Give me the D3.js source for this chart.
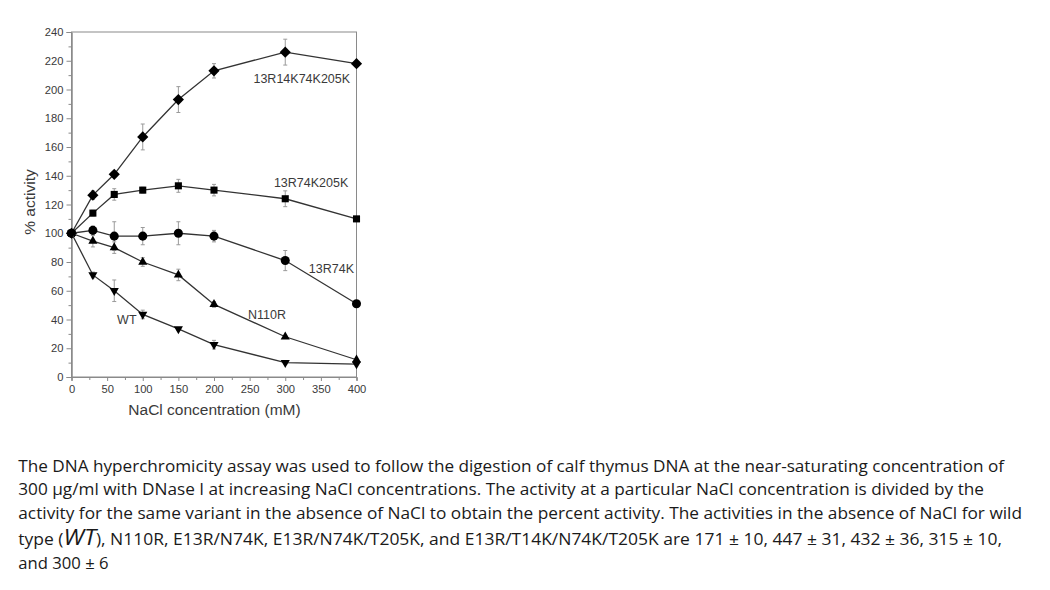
<!DOCTYPE html>
<html>
<head>
<meta charset="utf-8">
<script src="https://cdn.jsdelivr.net/npm/d3@7"></script>
<style>
  html, body { margin: 0; padding: 0; background: #fff; }
  svg { display: block; }
</style>
</head>
<body>
<svg id="chart" width="1050" height="590"></svg>
<script>
// ---- data ----
const concentrations = [0, 30, 60, 100, 150, 200, 300, 400];

const seriesNames = ["13R14K74K205K", "13R74K205K", "13R74K", "N110R", "WT"];
const seriesSymbols = ["diamond", "square", "circle", "triangleUp", "triangleDown"];

const act13R14K74K205K = [100, 126.5, 141, 167, 193, 213, 226, 218];
const err13R14K74K205K = [0, 3, 2, 9, 9, 5, 9, 0];
const act13R74K205K = [100, 114, 127, 130, 133, 130, 124, 110];
const err13R74K205K = [0, 2, 4, 2, 4.5, 4, 5.5, 1];
const act13R74K = [100, 102, 98, 98, 100, 98, 81, 51];
const err13R74K = [0, 3, 10, 6, 8, 4, 7, 0];
const actN110R = [100, 94.5, 90, 80, 71, 50.5, 28, 12];
const errN110R = [0, 4, 4, 3, 4, 2, 1, 0];
const actWT = [100, 71, 60, 43.5, 33.5, 22.5, 10, 9];
const errWT = [0, 2, 7.5, 3, 1, 3, 1, 0];

const xTicksMajor = [0, 50, 100, 150, 200, 250, 300, 350, 400];
const xTicksMinor = [25, 75, 125, 175, 225, 275, 325, 375];
const yTicksMajor = [0, 20, 40, 60, 80, 100, 120, 140, 160, 180, 200, 220, 240];
const yTicksMinor = [10, 30, 50, 70, 90, 110, 130, 150, 170, 190, 210, 230];

const xTitle = "NaCl concentration (mM)";
const yTitle = "% activity";

// annotation labels (data coordinates)
const labelTexts = ["13R14K74K205K", "13R74K205K", "13R74K", "N110R", "WT"];
const labelX = [391, 388.5, 396.5, 247.7, 64];
const labelY = [208, 135, 75.8, 43.8, 40.3];
const labelAnchor = ["end", "end", "end", "start", "start"];

const captionLines = [
  "The DNA hyperchromicity assay was used to follow the digestion of calf thymus DNA at the near-saturating concentration of",
  "300 \u00b5g/ml with DNase I at increasing NaCl concentrations. The activity at a particular NaCl concentration is divided by the",
  "activity for the same variant in the absence of NaCl to obtain the percent activity. The activities in the absence of NaCl for wild",
  "type (|WT|), N110R, E13R/N74K, E13R/N74K/T205K, and E13R/T14K/N74K/T205K are 171 \u00b1 10, 447 \u00b1 31, 432 \u00b1 36, 315 \u00b1 10,",
  "and 300 \u00b1 6"
];

// ---- drawing ----
const svg = d3.select("#chart");
const x = d3.scaleLinear().domain([0, 400]).range([71.5, 356.5]);
const y = d3.scaleLinear().domain([0, 240]).range([377, 32]);

const axisColor = "#8a8a8a";
const textColor = "#3a3a3a";
const chartFont = "'Liberation Sans', Arial, Helvetica, sans-serif";

// frame
svg.append("rect")
  .attr("x", x(0)).attr("y", y(240))
  .attr("width", x(400) - x(0)).attr("height", y(0) - y(240))
  .attr("fill", "none").attr("stroke", axisColor).attr("stroke-width", 1);

// y axis
const yAxis = d3.axisLeft(y).tickValues(yTicksMajor).tickSize(5).tickPadding(3).tickFormat(d3.format("d"));
const gy = svg.append("g").attr("transform", `translate(${x(0)},0)`).call(yAxis);
const yAxisMinor = d3.axisLeft(y).tickValues(yTicksMinor).tickSize(3).tickFormat("");
const gy2 = svg.append("g").attr("transform", `translate(${x(0)},0)`).call(yAxisMinor);

// x axis
const xAxis = d3.axisBottom(x).tickValues(xTicksMajor).tickSize(4).tickPadding(4).tickFormat(d3.format("d"));
const gx = svg.append("g").attr("transform", `translate(0,${y(0)})`).call(xAxis);
const xAxisMinor = d3.axisBottom(x).tickValues(xTicksMinor).tickSize(3).tickFormat("");
const gx2 = svg.append("g").attr("transform", `translate(0,${y(0)})`).call(xAxisMinor);

[gy, gy2, gx, gx2].forEach(g => {
  g.select(".domain").attr("stroke", axisColor);
  g.selectAll(".tick line").attr("stroke", axisColor);
  g.selectAll(".tick text").attr("fill", textColor).attr("font-size", 11.2).attr("font-family", chartFont);
});

// axis titles
svg.append("text")
  .attr("x", (x(0) + x(400)) / 2 + 0.5).attr("y", 415)
  .attr("text-anchor", "middle")
  .attr("font-family", chartFont).attr("font-size", 15.5).attr("fill", textColor)
  .text(xTitle);
svg.append("text")
  .attr("transform", `translate(35,${202}) rotate(-90)`)
  .attr("text-anchor", "middle")
  .attr("font-family", chartFont).attr("font-size", 15.5).attr("fill", textColor)
  .text(yTitle);

// series
const seriesValues = [act13R14K74K205K, act13R74K205K, act13R74K, actN110R, actWT];
const seriesErrors = [err13R14K74K205K, err13R74K205K, err13R74K, errN110R, errWT];

const symbolMap = {
  diamond: d3.symbol().type(d3.symbolDiamond2).size(80),
  square: d3.symbol().type(d3.symbolSquare2).size(64),
  circle: d3.symbol().type(d3.symbolCircle).size(64),
  triangleUp: d3.symbol().type(d3.symbolTriangle2).size(60),
  triangleDown: d3.symbol().type(d3.symbolTriangle2).size(60)
};

const line = d3.line().x(d => x(d[0])).y(d => y(d[1]));

seriesValues.forEach((vals, si) => {
  const pts = concentrations.map((c, i) => [c, vals[i], seriesErrors[si][i]]);
  const g = svg.append("g");
  // error bars
  pts.forEach(p => {
    if (p[2] > 0) {
      const eg = g.append("g").attr("stroke", "#9a9a9a").attr("stroke-width", 1);
      eg.append("line").attr("x1", x(p[0])).attr("x2", x(p[0])).attr("y1", y(p[1] - p[2])).attr("y2", y(p[1] + p[2]));
      eg.append("line").attr("x1", x(p[0]) - 2).attr("x2", x(p[0]) + 2).attr("y1", y(p[1] - p[2])).attr("y2", y(p[1] - p[2]));
      eg.append("line").attr("x1", x(p[0]) - 2).attr("x2", x(p[0]) + 2).attr("y1", y(p[1] + p[2])).attr("y2", y(p[1] + p[2]));
    }
  });
  g.append("path").datum(pts).attr("d", line)
    .attr("fill", "none").attr("stroke", "#333").attr("stroke-width", 1.3);
  const sym = seriesSymbols[si];
  g.selectAll(".m").data(pts).join("path")
    .attr("d", symbolMap[sym]())
    .attr("transform", d => `translate(${x(d[0])},${y(d[1])})` + (sym === "triangleDown" ? " rotate(180)" : ""))
    .attr("fill", "#000");
});

// labels
labelTexts.forEach((t, i) => {
  svg.append("text")
    .attr("x", x(labelX[i])).attr("y", y(labelY[i]))
    .attr("dy", "0.36em")
    .attr("text-anchor", labelAnchor[i])
    .attr("font-family", chartFont).attr("font-size", 12.5).attr("fill", textColor)
    .text(t);
});

// caption
const capBaselines = [471.5, 495, 518.5, 545, 569];
const capEnds = [1004, 984, 1022, 1002, 108.5];
const capFont = "'Open Sans', 'Noto Sans', sans-serif";
captionLines.forEach((ln, i) => {
  const t = svg.append("text")
    .attr("x", 18.3).attr("y", capBaselines[i])
    .attr("font-family", capFont).attr("font-size", 16).attr("fill", "#1a1a1a")
    .attr("textLength", capEnds[i] - 18.3).attr("lengthAdjust", "spacingAndGlyphs");
  const parts = ln.split("|");
  parts.forEach((p, k) => {
    const ts = t.append("tspan").text(p);
    if (k % 2 === 1) ts.attr("font-style", "italic").attr("font-size", 22);
  });
});
</script>
</body>
</html>
